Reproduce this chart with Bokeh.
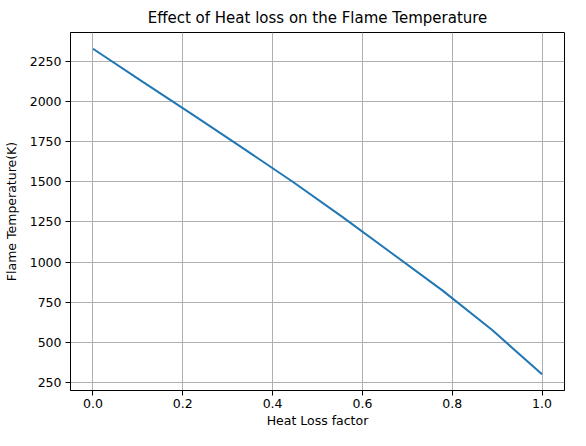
from bokeh.plotting import figure
from bokeh.models import Range1d, SingleIntervalTicker, NumeralTickFormatter
from bokeh.embed import file_html
from bokeh.resources import INLINE

# heat loss factor and resulting flame temperature
heat_loss = [0.0, 0.111, 0.222, 0.333, 0.444, 0.556, 0.667, 0.778, 0.889, 1.0]
flame_temp = [2328, 2122, 1918, 1711, 1502, 1280, 1052, 824, 577, 302]

FONT = "DejaVu Sans"

# 5% margins like matplotlib
x_span = max(heat_loss) - min(heat_loss)
y_span = max(flame_temp) - min(flame_temp)
x_rng = Range1d(min(heat_loss) - 0.05 * x_span, max(heat_loss) + 0.05 * x_span)
y_rng = Range1d(min(flame_temp) - 0.05 * y_span, max(flame_temp) + 0.05 * y_span)

p = figure(width=570, height=430,
           x_range=x_rng, y_range=y_rng,
           title="Effect of Heat loss on the Flame Temperature",
           x_axis_label="Heat Loss factor",
           y_axis_label="Flame Temperature(K)",
           output_backend="svg", toolbar_location=None)

p.min_border_left = 60
p.min_border_right = 6
p.min_border_top = 25
p.min_border_bottom = 30

p.background_fill_color = "white"
p.border_fill_color = "white"
p.outline_line_color = "black"
p.outline_line_alpha = 1.0
p.outline_line_width = 1

# title
p.title.align = "center"
p.title.text_font = FONT
p.title.text_font_size = "15px"
p.title.text_font_style = "normal"
p.title.text_color = "black"
p.title.standoff = 12

# axes
p.xaxis.ticker = SingleIntervalTicker(interval=0.2)
p.yaxis.ticker = SingleIntervalTicker(interval=250)
p.xaxis.formatter = NumeralTickFormatter(format="0.0")
p.yaxis.formatter = NumeralTickFormatter(format="0")

for ax in (p.xaxis, p.yaxis):
    ax.axis_line_color = "black"
    ax.major_tick_line_color = "black"
    ax.major_tick_out = 5
    ax.major_tick_in = 0
    ax.minor_tick_line_color = None
    ax.major_label_text_font = FONT
    ax.major_label_text_font_size = "12.5px"
    ax.major_label_text_color = "black"
    ax.axis_label_text_font = FONT
    ax.axis_label_text_font_size = "12.5px"
    ax.axis_label_text_font_style = "normal"
    ax.axis_label_text_color = "black"

p.xaxis.major_label_standoff = 3
p.xaxis.axis_label_standoff = 2
p.yaxis.major_label_standoff = 4
p.yaxis.axis_label_standoff = 8

# grid
p.grid.grid_line_color = "#b0b0b0"
p.grid.grid_line_width = 1

p.line(heat_loss, flame_temp, line_width=2, color="#1f77b4")

open("out.html", "w").write(file_html(p, INLINE))
